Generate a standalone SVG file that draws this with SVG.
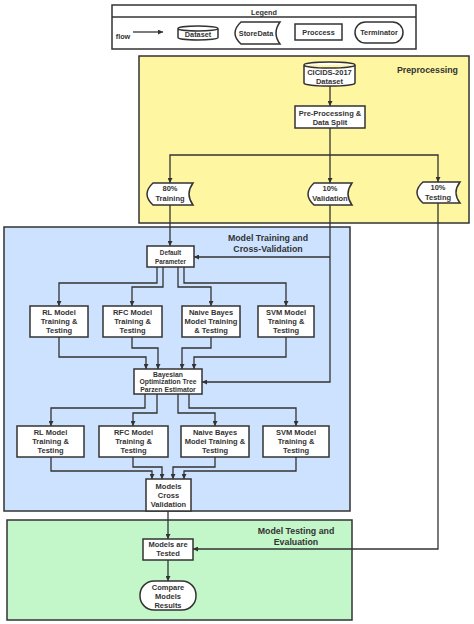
<svg xmlns="http://www.w3.org/2000/svg" width="474" height="624" viewBox="0 0 474 624">
<defs>
<marker id="ah" viewBox="0 0 6 6" refX="6" refY="3" markerWidth="5" markerHeight="5" markerUnits="userSpaceOnUse" orient="auto">
<path d="M0,0 L6,3 L0,6 z" fill="#333"/>
</marker>
</defs>
<style>
.sh{fill:#fff;stroke:#333;stroke-width:1.5}
.reg{stroke:#333;stroke-width:1.5}
.c{fill:none;stroke:#333;stroke-width:1.3;marker-end:url(#ah)}
.cn{fill:none;stroke:#333;stroke-width:1.3}
text{font-family:"Liberation Sans",Arial,sans-serif;font-weight:bold;fill:#333;text-anchor:middle}
.t{font-size:7.5px}
.ts{font-size:6.8px}
.tx{font-size:6.3px}
.h{font-size:8.8px}
.lg{font-size:7.3px}
</style>
<rect width="474" height="624" fill="#fff"/>

<g id="legend">
<rect x="112" y="5" width="304" height="44" fill="#fff" class="reg"/>
<line x1="112" y1="17" x2="416" y2="17" stroke="#333" stroke-width="1.3"/>
<text x="264" y="14.5" class="lg">Legend</text>
<text x="123" y="39" class="lg">flow</text>
<line x1="133" y1="32" x2="163" y2="32" class="c"/>
<path d="M178,28.5 A20,2.5 0 0 1 218,28.5 V37.5 A20,2.5 0 0 1 178,37.5 Z M178,28.5 A20,2.5 0 0 0 218,28.5" class="sh"/>
<text x="198" y="37" class="lg">Dataset</text>
<path d="M241,22 H280 Q272,33 280,44 H241 Q229,33 241,22 Z" class="sh"/>
<text x="256" y="36" class="lg">StoreData</text>
<rect x="295" y="24" width="47" height="16" class="sh"/>
<text x="318.5" y="35" class="lg">Proccess</text>
<rect x="355" y="22" width="48" height="21" rx="10.5" class="sh"/>
<text x="379" y="35" class="lg">Terminator</text>
</g>

<g id="region-preprocessing">
<rect x="139" y="56" width="330" height="167" fill="#fff6a1" class="reg"/>
<text x="458" y="73" class="h" style="text-anchor:end">Preprocessing</text>
</g>
<g id="region-training">
<rect x="4" y="227" width="346" height="284" fill="#cde2ff" class="reg"/>
<text x="268" y="241" class="h">Model Training and</text>
<text x="268" y="252" class="h">Cross-Validation</text>
</g>
<g id="region-testing">
<rect x="7" y="520" width="345" height="100" fill="#c3f6c9" class="reg"/>
<text x="296" y="534" class="h">Model Testing and</text>
<text x="296" y="545" class="h">Evaluation</text>
</g>

<g id="connectors">
<path d="M330,86 V106" class="c"/>
<path d="M330,128 V183" class="c"/>
<path d="M330,155 H170 V183" class="c"/>
<path d="M330,155 H438 V182" class="c"/>
<path d="M170,205 V246" class="c"/>
<path d="M330,205 V382 H202" class="c"/>
<path d="M330,257 H194" class="c"/>
<path d="M157,267 V283 H59 V306" class="c"/>
<path d="M163,267 V287 H132 V306" class="c"/>
<path d="M178,267 V287 H211 V306" class="c"/>
<path d="M184,267 V283 H286 V306" class="c"/>
<path d="M59,337 V357 H146 V369" class="c"/>
<path d="M132,337 V348 H158 V369" class="c"/>
<path d="M211,337 V348 H182 V369" class="c"/>
<path d="M286,337 V357 H194 V369" class="c"/>
<path d="M145,394 V408 H51 V426" class="c"/>
<path d="M157,394 V413 H133 V426" class="c"/>
<path d="M178,394 V413 H215 V426" class="c"/>
<path d="M189,394 V408 H296 V426" class="c"/>
<path d="M51,457 V471 H152 V479" class="c"/>
<path d="M133,457 V467 H162 V479" class="c"/>
<path d="M215,457 V467 H173 V479" class="c"/>
<path d="M296,457 V471 H184 V479" class="c"/>
<path d="M168,511 V539" class="c"/>
<path d="M438,203 V549 H193" class="c"/>
<path d="M168,560 V581" class="c"/>
</g>

<g id="cicids">
<path d="M304,65 A25.5,3 0 0 1 355,65 V83 A25.5,3 0 0 1 304,83 Z M304,65 A25.5,3 0 0 0 355,65" class="sh"/>
<text x="329.5" y="75" class="t">CICIDS-2017</text>
<text x="329.5" y="84" class="t">Dataset</text>
</g>
<g id="preproc">
<rect x="295" y="106" width="70" height="22" class="sh"/>
<text x="330" y="115.5" class="t">Pre-Processing &amp;</text>
<text x="330" y="124.5" class="t">Data Split</text>
</g>
<g id="training80">
<path d="M153,183 H193 Q185,194 193,205 H153 Q141,194 153,183 Z" class="sh"/>
<text x="170" y="191" class="t">80%</text>
<text x="170" y="201" class="t">Training</text>
</g>
<g id="validation10">
<path d="M314,183 H352 Q344,194 352,205 H314 Q302,194 314,183 Z" class="sh"/>
<text x="330" y="191" class="t">10%</text>
<text x="330" y="201" class="t">Validation</text>
</g>
<g id="testing10">
<path d="M423,182 H460 Q452,192.5 460,203 H423 Q411,192.5 423,182 Z" class="sh"/>
<text x="438" y="190" class="t">10%</text>
<text x="438" y="200" class="t">Testing</text>
</g>

<g id="default-param">
<rect x="147" y="246" width="47" height="21" class="sh"/>
<text x="170.5" y="255" class="tx">Default</text>
<text x="170.5" y="263.5" class="tx">Parameter</text>
</g>

<g id="rl1">
<rect x="30" y="306" width="58" height="31" class="sh"/>
<text x="59" y="314.5" class="t">RL Model</text>
<text x="59" y="323.5" class="t">Training &amp;</text>
<text x="59" y="332.5" class="t">Testing</text>
</g>
<g id="rfc1">
<rect x="103" y="306" width="59" height="31" class="sh"/>
<text x="132.5" y="314.5" class="t">RFC Model</text>
<text x="132.5" y="323.5" class="t">Training &amp;</text>
<text x="132.5" y="332.5" class="t">Testing</text>
</g>
<g id="nb1">
<rect x="182" y="306" width="58" height="31" class="sh"/>
<text x="211" y="314.5" class="t">Naive Bayes</text>
<text x="211" y="323.5" class="t">Model Training</text>
<text x="211" y="332.5" class="t">&amp; Testing</text>
</g>
<g id="svm1">
<rect x="258" y="306" width="56" height="31" class="sh"/>
<text x="286" y="314.5" class="t">SVM Model</text>
<text x="286" y="323.5" class="t">Training &amp;</text>
<text x="286" y="332.5" class="t">Testing</text>
</g>

<g id="bayesian">
<rect x="134" y="369" width="68" height="25" class="sh"/>
<text x="168" y="376.5" class="ts">Bayesian</text>
<text x="168" y="384" class="ts">Optimization Tree</text>
<text x="168" y="391.5" class="ts">Parzen Estimator</text>
</g>

<g id="rl2">
<rect x="17" y="426" width="67" height="31" class="sh"/>
<text x="50.5" y="434.5" class="t">RL Model</text>
<text x="50.5" y="443.5" class="t">Training &amp;</text>
<text x="50.5" y="452.5" class="t">Testing</text>
</g>
<g id="rfc2">
<rect x="99" y="426" width="69" height="31" class="sh"/>
<text x="133.5" y="434.5" class="t">RFC Model</text>
<text x="133.5" y="443.5" class="t">Training &amp;</text>
<text x="133.5" y="452.5" class="t">Testing</text>
</g>
<g id="nb2">
<rect x="181" y="426" width="68" height="31" class="sh"/>
<text x="215" y="434.5" class="t">Naive Bayes</text>
<text x="215" y="443.5" class="t">Model Training &amp;</text>
<text x="215" y="452.5" class="t">Testing</text>
</g>
<g id="svm2">
<rect x="263" y="426" width="66" height="31" class="sh"/>
<text x="296" y="434.5" class="t">SVM Model</text>
<text x="296" y="443.5" class="t">Training &amp;</text>
<text x="296" y="452.5" class="t">Testing</text>
</g>

<g id="cross-val">
<rect x="146" y="479" width="45" height="32" class="sh"/>
<text x="168.5" y="488.5" class="t">Models</text>
<text x="168.5" y="497.5" class="t">Cross</text>
<text x="168.5" y="506.5" class="t">Validation</text>
</g>

<g id="tested">
<rect x="143" y="539" width="50" height="21" class="sh"/>
<text x="168" y="547" class="t">Models are</text>
<text x="168" y="556" class="t">Tested</text>
</g>
<g id="compare">
<rect x="140" y="581" width="56" height="29" rx="14" class="sh"/>
<text x="168" y="589.5" class="t">Compare</text>
<text x="168" y="598.5" class="t">Models</text>
<text x="168" y="607.5" class="t">Results</text>
</g>
</svg>
